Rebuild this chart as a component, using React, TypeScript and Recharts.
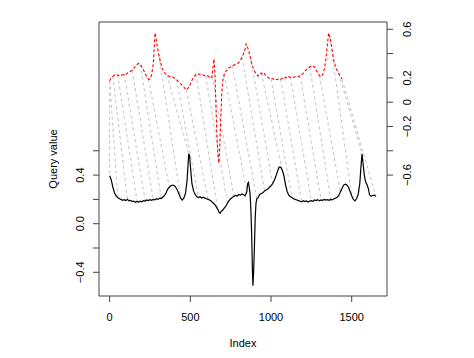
import { ComposedChart, Line, XAxis, YAxis, ReferenceArea, Label } from 'recharts';

// query series (black, left axis)
const queryIdx = [
  0, 10, 20, 30, 40, 50, 60, 70, 80, 90, 100, 110, 120, 130, 140, 150, 160, 170, 180, 190,
  200, 210, 220, 230, 240, 250, 260, 270, 280, 290, 300, 310, 320, 330, 340, 350, 360, 370, 380, 390,
  400, 410, 420, 430, 440, 450, 460, 470, 480, 485, 490, 495, 500, 505, 510, 520, 530, 540, 550, 560,
  570, 580, 590, 600, 610, 620, 630, 640, 650, 660, 670, 680, 685, 690, 700, 710, 720, 730, 740, 750,
  760, 770, 780, 790, 800, 810, 820, 830, 840, 850, 855, 860, 865, 870, 875, 880, 885, 888, 892, 897,
  902, 907, 912, 920, 930, 940, 950, 960, 970, 980, 990, 1000, 1010, 1020, 1030, 1040, 1050, 1060, 1070, 1080,
  1090, 1100, 1110, 1120, 1130, 1140, 1150, 1160, 1170, 1180, 1190, 1200, 1210, 1220, 1230, 1240, 1250, 1260, 1270, 1280,
  1290, 1300, 1310, 1320, 1330, 1340, 1350, 1360, 1370, 1380, 1390, 1400, 1410, 1420, 1430, 1440, 1450, 1460, 1470, 1480,
  1490, 1500, 1510, 1520, 1530, 1540, 1550, 1558, 1564, 1570, 1578, 1586, 1595, 1603, 1610, 1620, 1630, 1640, 1650,
];
const queryVal = [
  0.395, 0.36, 0.3, 0.255, 0.228, 0.215, 0.205, 0.2, 0.193, 0.198, 0.19, 0.2, 0.188, 0.192, 0.182, 0.186, 0.176, 0.183, 0.178, 0.185,
  0.18, 0.19, 0.186, 0.195, 0.19, 0.197, 0.192, 0.2, 0.196, 0.205, 0.2, 0.21, 0.206, 0.22, 0.232, 0.255, 0.285, 0.3, 0.312, 0.318,
  0.314, 0.3, 0.275, 0.245, 0.21, 0.195, 0.212, 0.25, 0.36, 0.47, 0.575, 0.56, 0.48, 0.4, 0.33, 0.27, 0.24, 0.222, 0.215, 0.222,
  0.212, 0.218, 0.21, 0.205, 0.2, 0.195, 0.185, 0.172, 0.16, 0.14, 0.118, 0.09, 0.085, 0.1, 0.11, 0.128, 0.145, 0.168, 0.19, 0.205,
  0.215, 0.225, 0.232, 0.228, 0.24, 0.235, 0.245, 0.238, 0.23, 0.265, 0.33, 0.34, 0.3, 0.25, 0.12, -0.08, -0.4, -0.51, -0.4, -0.2,
  0.05, 0.17, 0.205, 0.215, 0.24, 0.248, 0.255, 0.27, 0.278, 0.285, 0.3, 0.312, 0.33, 0.355, 0.39, 0.43, 0.465, 0.465, 0.44, 0.395,
  0.32, 0.265, 0.235, 0.222, 0.215, 0.205, 0.2, 0.195, 0.19, 0.185, 0.18, 0.19, 0.182, 0.188, 0.178, 0.186, 0.19, 0.184, 0.195, 0.19,
  0.198, 0.188, 0.196, 0.192, 0.2, 0.194, 0.198, 0.192, 0.2, 0.196, 0.205, 0.21, 0.218, 0.232, 0.262, 0.29, 0.318, 0.325, 0.318, 0.3,
  0.265, 0.23, 0.2, 0.188, 0.205, 0.24, 0.33, 0.48, 0.575, 0.5, 0.4, 0.345, 0.32, 0.29, 0.24, 0.225, 0.232, 0.235, 0.225,
];

// reference series (red dashed, right axis)
const refIdx = [
  0, 10, 20, 30, 40, 50, 60, 70, 80, 90, 100, 110, 120, 130, 140, 150, 160, 170, 180, 190,
  200, 210, 220, 230, 240, 250, 260, 270, 275, 281, 287, 295, 305, 315, 325, 335, 345, 355, 365, 375,
  385, 395, 405, 415, 425, 435, 445, 455, 465, 475, 485, 495, 505, 515, 525, 535, 545, 555, 565, 575,
  585, 595, 605, 615, 625, 635, 641, 647, 652, 658, 664, 670, 676, 682, 688, 694, 700, 710, 720, 730,
  740, 750, 760, 770, 780, 790, 800, 810, 820, 830, 840, 846, 852, 860, 870, 880, 890, 900, 910, 920,
  930, 940, 950, 960, 970, 980, 990, 1000, 1010, 1020, 1030, 1040, 1050, 1060, 1070, 1080, 1090, 1100, 1110, 1120,
  1130, 1140, 1150, 1160, 1170, 1180, 1190, 1200, 1210, 1220, 1230, 1240, 1250, 1260, 1270, 1280, 1290, 1300, 1310, 1320,
  1330, 1340, 1348, 1357, 1364, 1372, 1380, 1390, 1400, 1410, 1420, 1430, 1440,
];
const refVal = [
  0.176, 0.2, 0.212, 0.222, 0.218, 0.225, 0.215, 0.222, 0.225, 0.232, 0.228, 0.24, 0.245, 0.255, 0.262, 0.28, 0.295, 0.31, 0.32, 0.31,
  0.29, 0.265, 0.235, 0.21, 0.19, 0.19, 0.225, 0.31, 0.42, 0.57, 0.53, 0.46, 0.39, 0.33, 0.28, 0.25, 0.235, 0.225, 0.215, 0.21,
  0.212, 0.205, 0.195, 0.185, 0.172, 0.16, 0.145, 0.135, 0.115, 0.1, 0.115, 0.135, 0.165, 0.195, 0.215, 0.23, 0.235, 0.228, 0.232, 0.225,
  0.222, 0.215, 0.218, 0.21, 0.195, 0.215, 0.3, 0.355, 0.25, 0.0, -0.25, -0.42, -0.5, -0.38, -0.15, 0.05, 0.17, 0.23, 0.255, 0.27,
  0.285, 0.29, 0.3, 0.305, 0.31, 0.318, 0.325, 0.345, 0.37, 0.4, 0.44, 0.48, 0.465, 0.43, 0.38, 0.32, 0.28, 0.25, 0.23, 0.215,
  0.23, 0.24, 0.225, 0.235, 0.215, 0.205, 0.195, 0.19, 0.195, 0.185, 0.19, 0.185, 0.195, 0.188, 0.198, 0.192, 0.205, 0.198, 0.21, 0.205,
  0.212, 0.205, 0.21, 0.215, 0.208, 0.22, 0.225, 0.24, 0.255, 0.27, 0.28, 0.29, 0.3, 0.295, 0.29, 0.26, 0.24, 0.22, 0.21, 0.225,
  0.27, 0.35, 0.46, 0.57, 0.54, 0.49, 0.42, 0.34, 0.29, 0.26, 0.235, 0.215, 0.19,
];

// warping path matches drawn as grey segments (reference index -> query index)
const alignRef = [0, 0, 20, 50, 90, 140, 190, 240, 305, 355, 415, 475, 535, 595, 635, 710, 760, 820, 880, 940, 1000, 1060, 1120, 1180, 1240, 1300, 1364, 1420, 1440];
const alignQuery = [0, 50, 110, 170, 220, 270, 320, 370, 440, 490, 550, 610, 670, 730, 770, 850, 912, 960, 1010, 1070, 1130, 1190, 1250, 1310, 1370, 1430, 1500, 1564, 1650];

const refOffset = 1;

const xTicks = [0, 500, 1000, 1500];
const leftTicks = [-0.4, -0.2, 0, 0.2, 0.4, 0.6];
const leftTickLabels = ['\u22120.4', '', '0.0', '', '0.4', ''];
const rightTicks = [-0.6, -0.4, -0.2, 0, 0.2, 0.4, 0.6];
const rightTickLabels = ['\u22120.6', '', '\u22120.2', '0', '0.2', '', '0.6'];

const queryData = queryIdx.map((idx, i) => ({ idx, v: queryVal[i] }));
const refData = refIdx.map((idx, i) => ({ idx, v: refVal[i] }));
const alignData = alignRef.map((r, k) => [
  { idx: r, v: refVal[refIdx.indexOf(r)] + refOffset },
  { idx: alignQuery[k], v: queryVal[queryIdx.indexOf(alignQuery[k])] },
]);

const FONT = '"Liberation Sans", Arial, Helvetica, sans-serif';
const X_DOMAIN = [-66, 1718.7];
const LEFT_DOMAIN = [-0.595, 1.66];
const RIGHT_DOMAIN = [LEFT_DOMAIN[0] - refOffset, LEFT_DOMAIN[1] - refOffset];

const BottomTick = (props: any) => {
  const { x, y, payload } = props;
  return (
    <text x={x} y={y + 19} textAnchor="middle" fontSize={11} fill="#000" fontFamily={FONT}>
      {payload.value}
    </text>
  );
};

const LeftTick = (props: any) => {
  const { x, y, index } = props;
  const tx = x - 9;
  return (
    <text x={tx} y={y} transform={`rotate(-90 ${tx} ${y})`} textAnchor="middle" fontSize={11} fill="#000" fontFamily={FONT}>
      {leftTickLabels[index]}
    </text>
  );
};

const RightTick = (props: any) => {
  const { x, y, index } = props;
  const tx = x + 18;
  return (
    <text x={tx} y={y} transform={`rotate(-90 ${tx} ${y})`} textAnchor="middle" fontSize={11} fill="#000" fontFamily={FONT}>
      {rightTickLabels[index]}
    </text>
  );
};

export default function App() {
  return (
    <div style={{ position: 'absolute', left: 0, top: 0, width: 474, height: 358, background: '#fff' }}>
      <ComposedChart width={474} height={358} margin={{ top: 22, right: 27, bottom: 12, left: 39 }}>
        <XAxis
          xAxisId="b"
          dataKey="idx"
          type="number"
          domain={X_DOMAIN}
          allowDataOverflow
          ticks={xTicks}
          tick={<BottomTick />}
          tickSize={6}
          tickMargin={0}
          tickLine={{ stroke: '#444' }}
          axisLine={false}
          height={50}
        >
          <Label
            content={(p: any) => {
              const vb = p.viewBox;
              return (
                <text x={vb.x + vb.width / 2} y={vb.y + 50.5} textAnchor="middle" fontSize={11} fill="#000" fontFamily={FONT}>
                  Index
                </text>
              );
            }}
          />
        </XAxis>
        <YAxis
          yAxisId="left"
          orientation="left"
          type="number"
          domain={LEFT_DOMAIN}
          allowDataOverflow
          ticks={leftTicks}
          tick={<LeftTick />}
          tickSize={6}
          tickMargin={0}
          tickLine={{ stroke: '#444' }}
          axisLine={false}
          width={60}
        >
          <Label
            content={(p: any) => {
              const vb = p.viewBox;
              const tx = vb.x + 17.5;
              const ty = vb.y + vb.height / 2;
              return (
                <text x={tx} y={ty} transform={`rotate(-90 ${tx} ${ty})`} textAnchor="middle" fontSize={11} fill="#000" fontFamily={FONT}>
                  Query value
                </text>
              );
            }}
          />
        </YAxis>
        <YAxis
          yAxisId="right"
          orientation="right"
          type="number"
          domain={RIGHT_DOMAIN}
          allowDataOverflow
          ticks={rightTicks}
          tick={<RightTick />}
          tickSize={6}
          tickMargin={0}
          tickLine={{ stroke: '#444' }}
          axisLine={false}
          width={60}
        />
        <ReferenceArea
          xAxisId="b"
          yAxisId="left"
          x1={X_DOMAIN[0]}
          x2={X_DOMAIN[1]}
          y1={LEFT_DOMAIN[0]}
          y2={LEFT_DOMAIN[1]}
          fill="none"
          stroke="#444"
          strokeWidth={1}
          ifOverflow="visible"
        />
        {alignData.map((seg, k) => (
          <Line
            key={`align-${k}`}
            xAxisId="b"
            yAxisId="left"
            data={seg}
            dataKey="v"
            type="linear"
            stroke="#c2c2c2"
            strokeWidth={1}
            strokeDasharray="3 3"
            dot={false}
            activeDot={false}
            isAnimationActive={false}
          />
        ))}
        <Line
          xAxisId="b"
          yAxisId="right"
          data={refData}
          dataKey="v"
          type="linear"
          stroke="#ff0000"
          strokeWidth={1.1}
          strokeDasharray="3 2"
          dot={false}
          activeDot={false}
          isAnimationActive={false}
        />
        <Line
          xAxisId="b"
          yAxisId="left"
          data={queryData}
          dataKey="v"
          type="linear"
          stroke="#000"
          strokeWidth={1.2}
          dot={false}
          activeDot={false}
          isAnimationActive={false}
        />
      </ComposedChart>
    </div>
  );
}
